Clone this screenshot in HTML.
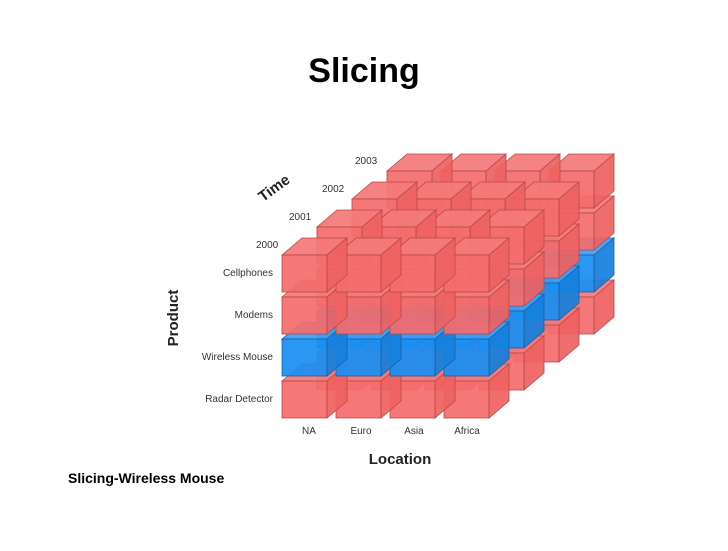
<!DOCTYPE html>
<html><head><meta charset="utf-8"><style>
body{margin:0;background:#fff;width:728px;height:546px;overflow:hidden}
</style></head><body>
<svg id="s" width="728" height="546" xmlns="http://www.w3.org/2000/svg" font-family="Liberation Sans, DejaVu Sans, sans-serif">
<text x="364" y="82" text-anchor="middle" font-size="34" font-weight="bold" fill="#000">Slicing</text>
<g id="cubes"></g>
<g font-size="10" fill="#333">
<text x="355" y="164">2003</text>
<text x="322" y="192">2002</text>
<text x="289" y="220">2001</text>
<text x="256" y="248">2000</text>
<text x="273" y="276" text-anchor="end">Cellphones</text>
<text x="273" y="318" text-anchor="end">Modems</text>
<text x="273" y="360" text-anchor="end">Wireless Mouse</text>
<text x="273" y="402" text-anchor="end">Radar Detector</text>
<text x="309" y="434" text-anchor="middle">NA</text>
<text x="361" y="434" text-anchor="middle">Euro</text>
<text x="414" y="434" text-anchor="middle">Asia</text>
<text x="467" y="434" text-anchor="middle">Africa</text>
</g>
<text x="400" y="464" text-anchor="middle" font-size="15" font-weight="bold" fill="#222">Location</text>
<text transform="translate(178,318) rotate(-90)" text-anchor="middle" font-size="15" font-weight="bold" fill="#222">Product</text>
<text transform="translate(277,192) rotate(-36)" text-anchor="middle" font-size="15" font-weight="bold" fill="#222">Time</text>
<text x="68" y="483" font-size="14" font-weight="bold" fill="#000">Slicing-Wireless Mouse</text>
</svg>
<script>
var g=document.getElementById('cubes'),h='';
var w=45,ht=37,dx=20,dy=17;
for(var L=3;L>=0;L--){
 var ox=282+35*L,oy=255-28*L;
 for(var r=3;r>=0;r--){
  for(var c=3;c>=0;c--){
   var x=ox+54*c,y=oy+42*r;
   var blue=(r==2);
   var f=blue?'#1a8ff2':'#f46d6d',t=blue?'#3a9ff5':'#f47a7a',s=blue?'#1580dd':'#ee6262',st=blue?'#1a60a0':'#b84848';
   h+='<polygon points="'+x+','+y+' '+(x+dx)+','+(y-dy)+' '+(x+w+dx)+','+(y-dy)+' '+(x+w)+','+y+'" fill="'+t+'" stroke="'+st+'" stroke-width="0.8" fill-opacity="0.93"/>';
   h+='<polygon points="'+(x+w)+','+y+' '+(x+w+dx)+','+(y-dy)+' '+(x+w+dx)+','+(y+ht-dy)+' '+(x+w)+','+(y+ht)+'" fill="'+s+'" stroke="'+st+'" stroke-width="0.8" fill-opacity="0.93"/>';
   h+='<rect x="'+x+'" y="'+y+'" width="'+w+'" height="'+ht+'" fill="'+f+'" stroke="'+st+'" stroke-width="0.8" fill-opacity="0.93"/>';
  }
 }
}
g.innerHTML=h;
</script>
</body></html>
